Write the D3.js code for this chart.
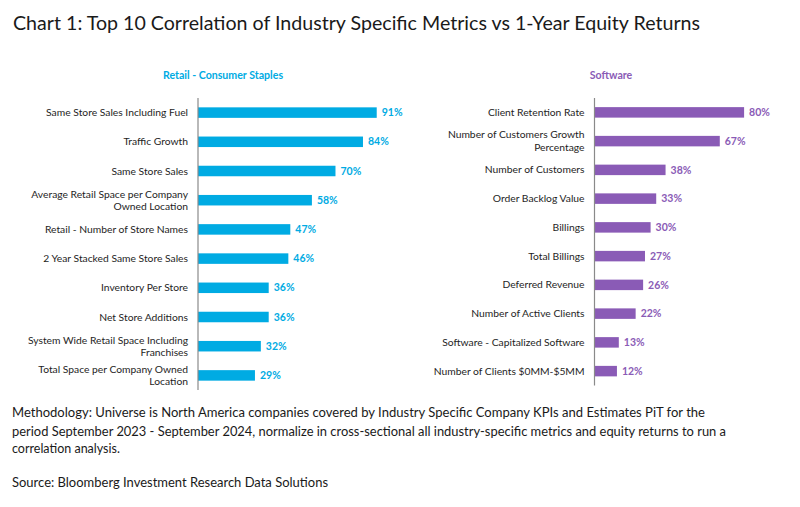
<!DOCTYPE html>
<html>
<head>
<meta charset="utf-8">
<script src="https://cdn.jsdelivr.net/npm/d3@7"></script>
<style>
  body { margin: 0; background: #fff; }
  svg text { font-family: Lato, "Open Sans", sans-serif; }
</style>
</head>
<body>
<svg id="chart" width="800" height="507"></svg>
<script>
// data
const retailCategories = [
  "Same Store Sales Including Fuel",
  "Traffic Growth",
  "Same Store Sales",
  "Average Retail Space per Company|Owned Location",
  "Retail - Number of Store Names",
  "2 Year Stacked Same Store Sales",
  "Inventory Per Store",
  "Net Store Additions",
  "System Wide Retail Space Including|Franchises",
  "Total Space per Company Owned|Location"
];
const retailValues = [91, 84, 70, 58, 47, 46, 36, 36, 32, 29];

const softwareCategories = [
  "Client Retention Rate",
  "Number of Customers Growth|Percentage",
  "Number of Customers",
  "Order Backlog Value",
  "Billings",
  "Total Billings",
  "Deferred Revenue",
  "Number of Active Clients",
  "Software - Capitalized Software",
  "Number of Clients $0MM-$5MM"
];
const softwareValues = [80, 67, 38, 33, 30, 27, 26, 22, 13, 12];

const footLines = [
  "Methodology: Universe is North America companies covered by Industry Specific Company KPIs and Estimates PiT for the",
  "period September 2023 - September 2024, normalize in cross-sectional all industry-specific metrics and equity returns to run a",
  "correlation analysis.",
  "",
  "Source: Bloomberg Investment Research Data Solutions"
];

const svg = d3.select("#chart");

svg.append("text")
  .attr("x", 13).attr("y", 30)
  .attr("font-size", 19.5)
  .attr("fill", "#1a1a1a")
  .attr("textLength", 687)
  .attr("lengthAdjust", "spacingAndGlyphs")
  .text("Chart 1: Top 10 Correlation of Industry Specific Metrics vs 1-Year Equity Returns");

function panel(opts) {
  const data = opts.cats.map((c, i) => ({ cat: c, val: opts.vals[i] }));
  const g = svg.append("g").attr("transform", `translate(${opts.x0},0)`);

  const y = d3.scaleBand()
    .domain(opts.cats)
    .range(opts.yRange)
    .paddingInner(opts.pad)
    .paddingOuter(opts.pad / 2);
  const x = d3.scaleLinear().domain([0, 100]).range([0, opts.width]);

  svg.append("text")
    .attr("x", opts.titleX).attr("y", 79)
    .attr("text-anchor", "middle")
    .attr("font-size", 10.6)
    .attr("font-weight", "bold")
    .attr("fill", opts.color)
    .text(opts.title);

  g.selectAll("rect.bar")
    .data(data)
    .join("rect")
    .attr("class", "bar")
    .attr("x", 0)
    .attr("y", d => y(d.cat))
    .attr("width", d => x(d.val))
    .attr("height", y.bandwidth())
    .attr("fill", opts.color);

  g.selectAll("text.val")
    .data(data)
    .join("text")
    .attr("class", "val")
    .attr("x", d => x(d.val) + 5)
    .attr("y", d => y(d.cat) + y.bandwidth() / 2)
    .attr("dy", "0.35em")
    .attr("font-size", 10.5)
    .attr("font-weight", "bold")
    .attr("fill", opts.color)
    .text(d => d.val + "%");

  const lbl = g.selectAll("text.cat")
    .data(data)
    .join("text")
    .attr("class", "cat")
    .attr("text-anchor", "end")
    .attr("font-size", 10.3)
    .attr("fill", "#1e1e1e");
  lbl.each(function (d) {
    const lines = d.cat.split("|");
    const cy = y(d.cat) + y.bandwidth() / 2;
    const t = d3.select(this);
    lines.forEach((ln, i) => {
      t.append("tspan")
        .attr("x", -10)
        .attr("y", cy + (i - (lines.length - 1) / 2) * 12.5)
        .attr("dy", "0.35em")
        .text(ln);
    });
  });

  const axis = d3.axisLeft(y).tickSize(0).tickFormat("");
  g.append("g").call(axis)
    .call(s => s.select(".domain").attr("stroke", "#8a8a8a").attr("stroke-width", 1.2)
      .attr("d", `M0,${opts.yRange[0]}V${opts.yRange[1]}`));
}

panel({
  cats: retailCategories, vals: retailValues,
  x0: 198, width: 196.4, yRange: [98, 390], pad: 0.64,
  color: "#00ABE3", title: "Retail - Consumer Staples", titleX: 223
});
panel({
  cats: softwareCategories, vals: softwareValues,
  x0: 594.5, width: 187, yRange: [98, 385.5], pad: 0.635,
  color: "#8A5BB6", title: "Software", titleX: 611
});

const footWidths = [693, 714, 0, 0, 316];
svg.append("g").selectAll("text")
  .data(footLines)
  .join("text")
  .attr("x", 12)
  .attr("y", (d, i) => [417, 436, 453, 0, 487][i])
  .attr("font-size", 12.5)
  .attr("fill", "#1a1a1a")
  .each(function (d, i) {
    if (footWidths[i]) d3.select(this).attr("textLength", footWidths[i]).attr("lengthAdjust", "spacingAndGlyphs");
  })
  .text(d => d);
</script>
</body>
</html>
